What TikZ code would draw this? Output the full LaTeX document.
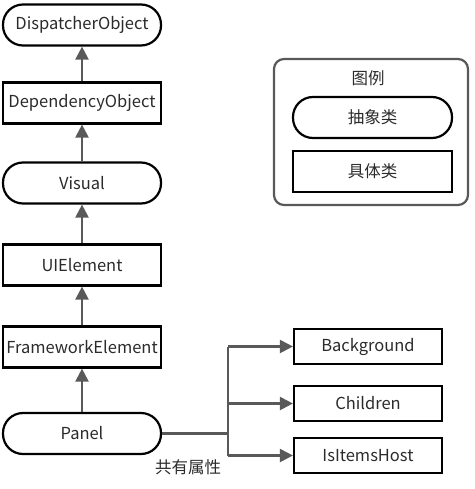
\documentclass[tikz,border=0pt]{standalone}
\usepackage{fontspec}
\setmainfont{Noto Sans CJK SC}
\usetikzlibrary{arrows.meta}
\definecolor{linegray}{HTML}{595959}
\definecolor{txt}{HTML}{2B2B2B}
\tikzset{
  base/.style={draw=black, line width=2.2pt, text=txt, font=\fontsize{16.5}{19}\selectfont, inner sep=0pt},
  abstractcls/.style={base, minimum width=158pt, minimum height=41pt, rounded corners=20pt},
  concretecls/.style={base, minimum width=158pt, minimum height=41pt},
  propbox/.style={base, minimum width=148pt, minimum height=35pt},
  legabs/.style={base, minimum width=159pt, minimum height=41pt, rounded corners=20pt},
  legcon/.style={base, minimum width=159pt, minimum height=41pt},
  conn/.style={draw=linegray, line width=2.2pt},
  arr/.style={conn, -{Triangle[length=13pt,width=13pt]}},
}
\begin{document}
\begin{tikzpicture}[x=1pt,y=-1pt]
\useasboundingbox (0,0) rectangle (474,489);
% legend
\node[draw=linegray, line width=2.2pt, rounded corners=10pt, minimum width=194pt, minimum height=146pt, inner sep=0pt] (legend) at (371,132) {};
\node[text=txt, font=\fontsize{16.5}{19}\selectfont] (legtitle) at (368,78) {图例};
\node[legabs] (legA) at (372.5,117.5) {抽象类};
\node[legcon] (legC) at (372.5,171.5) {具体类};
% class chain
\node[abstractcls] (disp) at (82,25) {DispatcherObject};
\node[concretecls] (dep) at (82,103) {DependencyObject};
\node[abstractcls] (vis) at (82,183) {Visual};
\node[concretecls] (uie) at (82,265) {UIElement};
\node[concretecls] (fwe) at (82,347) {FrameworkElement};
\node[abstractcls] (panel) at (82,433.5) {Panel};
\draw[arr] (dep.north) -- (disp.south);
\draw[arr] (vis.north) -- (dep.south);
\draw[arr] (uie.north) -- (vis.south);
\draw[arr] (fwe.north) -- (uie.south);
\draw[arr] (panel.north) -- (fwe.south);
% properties
\node[propbox] (bg) at (368,346.5) {Background};
\node[propbox] (ch) at (368,403.5) {Children};
\node[propbox] (ih) at (368,455.5) {IsItemsHost};
\coordinate (jn) at (228,433.5);
\coordinate (jtop) at (228,346.5);
\coordinate (jbot) at (228,455.5);
\draw[conn] (panel.east) -- (jn);
\draw[conn] (jtop) -- (jbot);
\draw[arr] (jtop) -- (bg.west);
\draw[arr] (jn |- ch.west) -- (ch.west);
\draw[arr] (jbot) -- (ih.west);
\node[text=txt, font=\fontsize{16.5}{19}\selectfont, anchor=west, inner sep=0pt] (lbl) at (155,467) {共有属性};
\end{tikzpicture}
\end{document}
